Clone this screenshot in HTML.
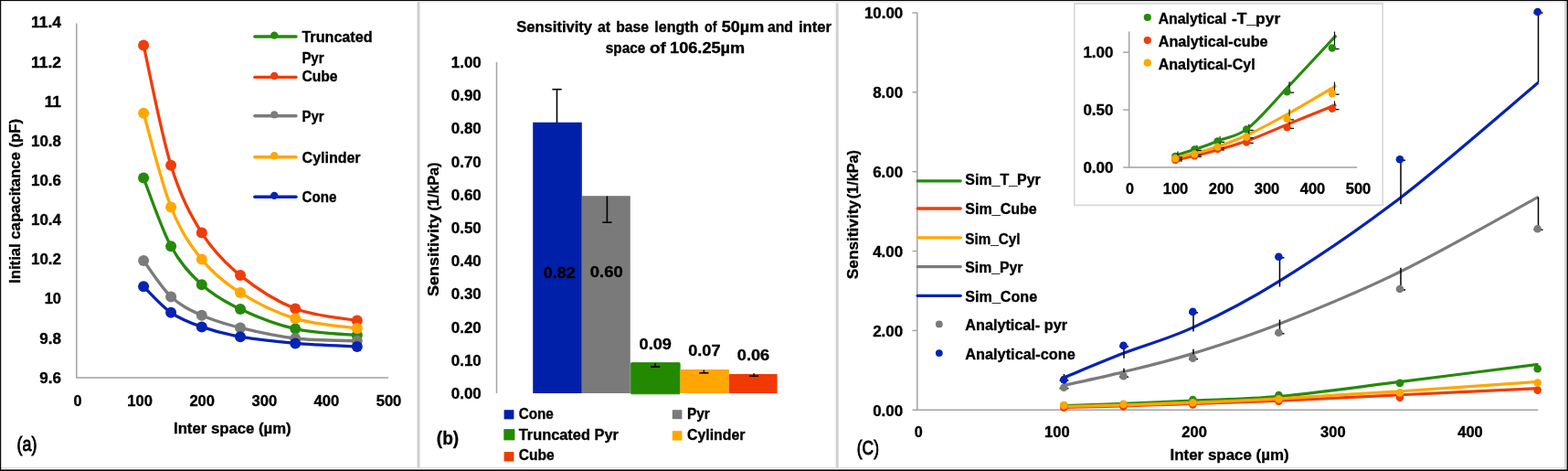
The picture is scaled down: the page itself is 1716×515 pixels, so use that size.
<!DOCTYPE html>
<html><head><meta charset="utf-8"><title>Sensitivity charts</title>
<style>
html,body{margin:0;padding:0;background:#fff;}
body{width:1716px;height:515px;overflow:hidden;}
svg{display:block;}
text{font-family:"Liberation Sans", sans-serif;}
text[font-weight="bold"]{stroke:#000;stroke-width:0.35px;}
text.reg{stroke:#000;stroke-width:0.9px;}
</style></head>
<body>
<svg width="1716" height="515" viewBox="0 0 1716 515">
<rect x="0" y="0" width="1716" height="515" fill="#fff"/>
<rect x="456.5" y="2" width="3" height="510" fill="#cfcfcf"/>
<rect x="914.7" y="2" width="3" height="510" fill="#d2d2d2"/>
<rect x="459.5" y="2" width="1253" height="1.4" fill="#efefef"/>
<rect x="1" y="511" width="1713" height="1.2" fill="#dcdcdc"/>
<rect x="1712" y="1" width="2" height="512" fill="#d8d8d8"/>
<rect x="0" y="0" width="1716" height="1.1" fill="#080808"/>
<rect x="0" y="0" width="1.2" height="515" fill="#080808"/>
<rect x="0" y="513.4" width="1716" height="1.6" fill="#080808"/>
<rect x="1714.6" y="0" width="1.4" height="515" fill="#080808"/>
<path d="M83.8,25.5 V413 H425" fill="none" stroke="#a3a3a3" stroke-width="1.5"/>
<text x="34.00" y="30.40" font-size="17.2" textLength="33.00" lengthAdjust="spacingAndGlyphs" font-weight="bold" fill="#000">11.4</text>
<text x="34.00" y="73.56" font-size="17.2" textLength="33.00" lengthAdjust="spacingAndGlyphs" font-weight="bold" fill="#000">11.2</text>
<text x="48.70" y="116.71" font-size="17.2" textLength="18.30" lengthAdjust="spacingAndGlyphs" font-weight="bold" fill="#000">11</text>
<text x="34.00" y="159.87" font-size="17.2" textLength="33.01" lengthAdjust="spacingAndGlyphs" font-weight="bold" fill="#000">10.8</text>
<text x="34.00" y="203.02" font-size="17.2" textLength="33.01" lengthAdjust="spacingAndGlyphs" font-weight="bold" fill="#000">10.6</text>
<text x="34.00" y="246.18" font-size="17.2" textLength="33.01" lengthAdjust="spacingAndGlyphs" font-weight="bold" fill="#000">10.4</text>
<text x="34.00" y="289.33" font-size="17.2" textLength="33.01" lengthAdjust="spacingAndGlyphs" font-weight="bold" fill="#000">10.2</text>
<text x="48.70" y="332.49" font-size="17.2" textLength="18.31" lengthAdjust="spacingAndGlyphs" font-weight="bold" fill="#000">10</text>
<text x="43.30" y="375.64" font-size="17.2" textLength="23.70" lengthAdjust="spacingAndGlyphs" font-weight="bold" fill="#000">9.8</text>
<text x="43.30" y="418.80" font-size="17.2" textLength="23.70" lengthAdjust="spacingAndGlyphs" font-weight="bold" fill="#000">9.6</text>
<text x="80.50" y="443.90" font-size="17.2" textLength="9.00" lengthAdjust="spacingAndGlyphs" font-weight="bold" fill="#000">0</text>
<text x="139.30" y="443.90" font-size="17.2" textLength="27.61" lengthAdjust="spacingAndGlyphs" font-weight="bold" fill="#000">100</text>
<text x="207.40" y="443.90" font-size="17.2" textLength="27.61" lengthAdjust="spacingAndGlyphs" font-weight="bold" fill="#000">200</text>
<text x="275.50" y="443.90" font-size="17.2" textLength="27.61" lengthAdjust="spacingAndGlyphs" font-weight="bold" fill="#000">300</text>
<text x="343.60" y="443.90" font-size="17.2" textLength="27.61" lengthAdjust="spacingAndGlyphs" font-weight="bold" fill="#000">400</text>
<text x="411.70" y="443.90" font-size="17.2" textLength="27.61" lengthAdjust="spacingAndGlyphs" font-weight="bold" fill="#000">500</text>
<text x="190.00" y="473.80" font-size="16.5" textLength="128.61" lengthAdjust="spacingAndGlyphs" font-weight="bold" fill="#000">Inter space (µm)</text>
<text transform="translate(22.40,309.90) rotate(-90)" x="-0.00" y="0" font-size="16.5" textLength="179.91" lengthAdjust="spacingAndGlyphs" font-weight="bold" fill="#000">Initial capacitance (pF)</text>
<text x="18.60" y="492.80" font-size="22.5" textLength="21.80" lengthAdjust="spacingAndGlyphs" font-weight="normal" class="reg" fill="#000">(a)</text>
<path d="M157.10,194.60 C162.10,207.05 176.48,249.87 187.10,269.30 C197.72,288.73 208.15,299.75 220.80,311.20 C233.45,322.65 245.93,329.93 263.00,338.00 C280.07,346.07 301.90,354.83 323.20,359.60 C344.50,364.37 379.53,365.43 390.80,366.60" fill="none" stroke="#258a0b" stroke-width="3.3" stroke-linejoin="round"/>
<circle cx="157.1" cy="194.6" r="6.0" fill="#258a0b"/>
<circle cx="187.1" cy="269.3" r="6.0" fill="#258a0b"/>
<circle cx="220.8" cy="311.2" r="6.0" fill="#258a0b"/>
<circle cx="263" cy="338.0" r="6.0" fill="#258a0b"/>
<circle cx="323.2" cy="359.6" r="6.0" fill="#258a0b"/>
<circle cx="390.8" cy="366.6" r="6.0" fill="#258a0b"/>
<path d="M157.10,49.40 C162.10,71.30 176.48,146.60 187.10,180.80 C197.72,215.00 208.15,234.55 220.80,254.60 C233.45,274.65 245.93,287.28 263.00,301.10 C280.07,314.92 301.90,329.25 323.20,337.50 C344.50,345.75 379.53,348.42 390.80,350.60" fill="none" stroke="#f03c0a" stroke-width="3.3" stroke-linejoin="round"/>
<circle cx="157.1" cy="49.4" r="6.0" fill="#f03c0a"/>
<circle cx="187.1" cy="180.8" r="6.0" fill="#f03c0a"/>
<circle cx="220.8" cy="254.6" r="6.0" fill="#f03c0a"/>
<circle cx="263" cy="301.1" r="6.0" fill="#f03c0a"/>
<circle cx="323.2" cy="337.5" r="6.0" fill="#f03c0a"/>
<circle cx="390.8" cy="350.6" r="6.0" fill="#f03c0a"/>
<path d="M157.10,285.00 C162.10,291.57 176.48,314.43 187.10,324.40 C197.72,334.37 208.15,339.13 220.80,344.80 C233.45,350.47 245.93,354.20 263.00,358.40 C280.07,362.60 301.90,367.60 323.20,370.00 C344.50,372.40 379.53,372.33 390.80,372.80" fill="none" stroke="#7b7b7b" stroke-width="3.3" stroke-linejoin="round"/>
<circle cx="157.1" cy="285.0" r="6.0" fill="#7b7b7b"/>
<circle cx="187.1" cy="324.4" r="6.0" fill="#7b7b7b"/>
<circle cx="220.8" cy="344.8" r="6.0" fill="#7b7b7b"/>
<circle cx="263" cy="358.4" r="6.0" fill="#7b7b7b"/>
<circle cx="323.2" cy="370.0" r="6.0" fill="#7b7b7b"/>
<circle cx="390.8" cy="372.8" r="6.0" fill="#7b7b7b"/>
<path d="M157.10,123.80 C162.10,140.90 176.48,199.77 187.10,226.40 C197.72,253.03 208.15,267.98 220.80,283.60 C233.45,299.22 245.93,309.32 263.00,320.10 C280.07,330.88 301.90,341.80 323.20,348.30 C344.50,354.80 379.53,357.30 390.80,359.10" fill="none" stroke="#ffa700" stroke-width="3.3" stroke-linejoin="round"/>
<circle cx="157.1" cy="123.8" r="6.0" fill="#ffa700"/>
<circle cx="187.1" cy="226.4" r="6.0" fill="#ffa700"/>
<circle cx="220.8" cy="283.6" r="6.0" fill="#ffa700"/>
<circle cx="263" cy="320.1" r="6.0" fill="#ffa700"/>
<circle cx="323.2" cy="348.3" r="6.0" fill="#ffa700"/>
<circle cx="390.8" cy="359.1" r="6.0" fill="#ffa700"/>
<path d="M157.10,313.30 C162.10,318.05 176.48,334.45 187.10,341.80 C197.72,349.15 208.15,353.00 220.80,357.40 C233.45,361.80 245.93,365.20 263.00,368.20 C280.07,371.20 301.90,373.60 323.20,375.40 C344.50,377.20 379.53,378.40 390.80,379.00" fill="none" stroke="#0623b4" stroke-width="3.3" stroke-linejoin="round"/>
<circle cx="157.1" cy="313.3" r="6.0" fill="#0623b4"/>
<circle cx="187.1" cy="341.8" r="6.0" fill="#0623b4"/>
<circle cx="220.8" cy="357.4" r="6.0" fill="#0623b4"/>
<circle cx="263" cy="368.2" r="6.0" fill="#0623b4"/>
<circle cx="323.2" cy="375.4" r="6.0" fill="#0623b4"/>
<circle cx="390.8" cy="379.0" r="6.0" fill="#0623b4"/>
<line x1="278.8" y1="40.0" x2="324.0" y2="40.0" stroke="#258a0b" stroke-width="3.4" stroke-linecap="round"/>
<circle cx="300.2" cy="38.6" r="4.2" fill="#258a0b"/>
<line x1="278.8" y1="84.4" x2="324.0" y2="84.4" stroke="#f03c0a" stroke-width="3.4" stroke-linecap="round"/>
<circle cx="300.2" cy="83.0" r="4.2" fill="#f03c0a"/>
<line x1="278.8" y1="126.8" x2="324.0" y2="126.8" stroke="#7b7b7b" stroke-width="3.4" stroke-linecap="round"/>
<circle cx="300.2" cy="125.39999999999999" r="4.2" fill="#7b7b7b"/>
<line x1="278.8" y1="171.7" x2="324.0" y2="171.7" stroke="#ffa700" stroke-width="3.4" stroke-linecap="round"/>
<circle cx="300.2" cy="170.29999999999998" r="4.2" fill="#ffa700"/>
<line x1="278.8" y1="215.3" x2="324.0" y2="215.3" stroke="#0623b4" stroke-width="3.4" stroke-linecap="round"/>
<circle cx="300.2" cy="213.9" r="4.2" fill="#0623b4"/>
<text x="330.40" y="46.10" font-size="16.5" textLength="77.20" lengthAdjust="spacingAndGlyphs" font-weight="bold" fill="#000">Truncated</text>
<text x="330.40" y="68.80" font-size="16.5" textLength="24.10" lengthAdjust="spacingAndGlyphs" font-weight="bold" fill="#000">Pyr</text>
<text x="330.40" y="89.10" font-size="16.5" textLength="39.10" lengthAdjust="spacingAndGlyphs" font-weight="bold" fill="#000">Cube</text>
<text x="330.60" y="133.30" font-size="16.5" textLength="24.10" lengthAdjust="spacingAndGlyphs" font-weight="bold" fill="#000">Pyr</text>
<text x="330.60" y="178.00" font-size="16.5" textLength="64.00" lengthAdjust="spacingAndGlyphs" font-weight="bold" fill="#000">Cylinder</text>
<text x="330.60" y="221.30" font-size="16.5" textLength="37.70" lengthAdjust="spacingAndGlyphs" font-weight="bold" fill="#000">Cone</text>
<text x="565.20" y="34.90" font-size="16.5" textLength="82.90" lengthAdjust="spacingAndGlyphs" font-weight="bold" fill="#000">Sensitivity</text>
<text x="653.90" y="34.90" font-size="16.5" textLength="14.10" lengthAdjust="spacingAndGlyphs" font-weight="bold" fill="#000">at</text>
<text x="674.30" y="34.90" font-size="16.5" textLength="35.70" lengthAdjust="spacingAndGlyphs" font-weight="bold" fill="#000">base</text>
<text x="716.30" y="34.90" font-size="16.5" textLength="48.19" lengthAdjust="spacingAndGlyphs" font-weight="bold" fill="#000">length</text>
<text x="771.00" y="34.90" font-size="16.5" textLength="13.37" lengthAdjust="spacingAndGlyphs" font-weight="bold" fill="#000">of</text>
<text x="789.80" y="34.90" font-size="16.5" textLength="46.39" lengthAdjust="spacingAndGlyphs" font-weight="bold" fill="#000">50µm</text>
<text x="840.00" y="34.90" font-size="16.5" textLength="28.00" lengthAdjust="spacingAndGlyphs" font-weight="bold" fill="#000">and</text>
<text x="873.90" y="34.90" font-size="16.5" textLength="36.10" lengthAdjust="spacingAndGlyphs" font-weight="bold" fill="#000">inter</text>
<text x="662.80" y="58.00" font-size="16.5" textLength="43.51" lengthAdjust="spacingAndGlyphs" font-weight="bold" fill="#000">space</text>
<text x="711.00" y="58.00" font-size="16.5" textLength="17.86" lengthAdjust="spacingAndGlyphs" font-weight="bold" fill="#000">of</text>
<text x="733.10" y="58.00" font-size="16.5" textLength="82.10" lengthAdjust="spacingAndGlyphs" font-weight="bold" fill="#000">106.25µm</text>
<line x1="543.5" y1="67.9" x2="543.5" y2="430.1" stroke="#a3a3a3" stroke-width="1.5"/>
<text x="493.80" y="73.90" font-size="17.2" textLength="33.01" lengthAdjust="spacingAndGlyphs" font-weight="bold" fill="#000">1.00</text>
<text x="493.80" y="110.10" font-size="17.2" textLength="33.01" lengthAdjust="spacingAndGlyphs" font-weight="bold" fill="#000">0.90</text>
<text x="493.80" y="146.30" font-size="17.2" textLength="33.01" lengthAdjust="spacingAndGlyphs" font-weight="bold" fill="#000">0.80</text>
<text x="493.80" y="182.50" font-size="17.2" textLength="33.01" lengthAdjust="spacingAndGlyphs" font-weight="bold" fill="#000">0.70</text>
<text x="493.80" y="218.70" font-size="17.2" textLength="33.01" lengthAdjust="spacingAndGlyphs" font-weight="bold" fill="#000">0.60</text>
<text x="493.80" y="254.90" font-size="17.2" textLength="33.01" lengthAdjust="spacingAndGlyphs" font-weight="bold" fill="#000">0.50</text>
<text x="493.80" y="291.10" font-size="17.2" textLength="33.01" lengthAdjust="spacingAndGlyphs" font-weight="bold" fill="#000">0.40</text>
<text x="493.80" y="327.30" font-size="17.2" textLength="33.01" lengthAdjust="spacingAndGlyphs" font-weight="bold" fill="#000">0.30</text>
<text x="493.80" y="363.50" font-size="17.2" textLength="33.01" lengthAdjust="spacingAndGlyphs" font-weight="bold" fill="#000">0.20</text>
<text x="493.80" y="399.70" font-size="17.2" textLength="33.01" lengthAdjust="spacingAndGlyphs" font-weight="bold" fill="#000">0.10</text>
<text x="493.80" y="435.90" font-size="17.2" textLength="33.01" lengthAdjust="spacingAndGlyphs" font-weight="bold" fill="#000">0.00</text>
<text transform="translate(480.20,324.00) rotate(-90)" x="-0.00" y="0" font-size="16.5" textLength="90.10" lengthAdjust="spacingAndGlyphs" font-weight="bold" fill="#000">Sensitivity</text>
<text transform="translate(480.20,230.60) rotate(-90)" x="-0.00" y="0" font-size="16.5" textLength="53.01" lengthAdjust="spacingAndGlyphs" font-weight="bold" fill="#000">(1/kPa)</text>
<rect x="583.2" y="133.8" width="53.6" height="296.2" fill="#0020a9"/>
<rect x="636.8" y="214.2" width="53.0" height="215.8" fill="#7a7a7a"/>
<rect x="690.4" y="396.6" width="53.8" height="34.2" rx="1" fill="#228900" stroke="#228900" stroke-width="0.8"/>
<rect x="744.4" y="404.0" width="53.4" height="26.0" fill="#ffa600"/>
<rect x="797.8" y="409.0" width="52.8" height="21.0" fill="#f03a02"/>
<line x1="609.5" y1="134" x2="609.5" y2="97.7" stroke="#000" stroke-width="1.6"/>
<line x1="604.4" y1="97.7" x2="614.6" y2="97.7" stroke="#000" stroke-width="1.6"/>
<line x1="664.4" y1="214.5" x2="664.4" y2="243.2" stroke="#000" stroke-width="1.6"/>
<line x1="659.3" y1="243.2" x2="669.5" y2="243.2" stroke="#000" stroke-width="1.6"/>
<line x1="717.1" y1="397.2" x2="717.1" y2="401.0" stroke="#000" stroke-width="1.6"/>
<line x1="712.0" y1="401.0" x2="722.2" y2="401.0" stroke="#000" stroke-width="1.6"/>
<line x1="770.3" y1="404.6" x2="770.3" y2="407.8" stroke="#000" stroke-width="1.6"/>
<line x1="765.1999999999999" y1="407.8" x2="775.4" y2="407.8" stroke="#000" stroke-width="1.6"/>
<line x1="825.0" y1="408.3" x2="825.0" y2="411.2" stroke="#000" stroke-width="1.6"/>
<line x1="819.9" y1="411.2" x2="830.1" y2="411.2" stroke="#000" stroke-width="1.6"/>
<text x="594.80" y="304.00" font-size="17.2" textLength="34.81" lengthAdjust="spacingAndGlyphs" font-weight="bold" fill="#000">0.82</text>
<text x="645.80" y="303.30" font-size="17.2" textLength="36.01" lengthAdjust="spacingAndGlyphs" font-weight="bold" fill="#000">0.60</text>
<text x="699.60" y="382.40" font-size="17.2" textLength="35.31" lengthAdjust="spacingAndGlyphs" font-weight="bold" fill="#000">0.09</text>
<text x="753.20" y="389.40" font-size="17.2" textLength="35.31" lengthAdjust="spacingAndGlyphs" font-weight="bold" fill="#000">0.07</text>
<text x="806.80" y="393.80" font-size="17.2" textLength="35.31" lengthAdjust="spacingAndGlyphs" font-weight="bold" fill="#000">0.06</text>
<rect x="551.6" y="448.2" width="10.8" height="10.2" fill="#0020a9"/>
<rect x="551.8" y="469.6" width="11.2" height="11.4" fill="#228900" stroke="#228900" stroke-width="0.8"/>
<rect x="551.6" y="494.1" width="10.8" height="10.4" fill="#f03a02"/>
<rect x="735.8" y="448.2" width="10.6" height="10.0" fill="#7a7a7a"/>
<rect x="735.8" y="471.2" width="10.6" height="10.4" fill="#ffa600"/>
<text x="567.70" y="458.30" font-size="16.5" textLength="38.10" lengthAdjust="spacingAndGlyphs" font-weight="bold" fill="#000">Cone</text>
<text x="567.70" y="481.40" font-size="16.5" textLength="109.20" lengthAdjust="spacingAndGlyphs" font-weight="bold" fill="#000">Truncated Pyr</text>
<text x="567.70" y="503.40" font-size="16.5" textLength="38.90" lengthAdjust="spacingAndGlyphs" font-weight="bold" fill="#000">Cube</text>
<text x="752.00" y="458.30" font-size="16.5" textLength="24.80" lengthAdjust="spacingAndGlyphs" font-weight="bold" fill="#000">Pyr</text>
<text x="752.00" y="481.40" font-size="16.5" textLength="63.40" lengthAdjust="spacingAndGlyphs" font-weight="bold" fill="#000">Cylinder</text>
<text x="477.80" y="486.00" font-size="21" textLength="24.40" lengthAdjust="spacingAndGlyphs" font-weight="bold" fill="#000">(b)</text>
<path d="M1003.8,14 V448.3 H1683.3" fill="none" stroke="#a3a3a3" stroke-width="1.5"/>
<line x1="998.5" y1="14.00" x2="1003.8" y2="14.00" stroke="#a3a3a3" stroke-width="1.5"/>
<text x="945.90" y="20.30" font-size="17.2" textLength="42.31" lengthAdjust="spacingAndGlyphs" font-weight="bold" fill="#000">10.00</text>
<line x1="998.5" y1="100.86" x2="1003.8" y2="100.86" stroke="#a3a3a3" stroke-width="1.5"/>
<text x="955.20" y="107.16" font-size="17.2" textLength="33.01" lengthAdjust="spacingAndGlyphs" font-weight="bold" fill="#000">8.00</text>
<line x1="998.5" y1="187.72" x2="1003.8" y2="187.72" stroke="#a3a3a3" stroke-width="1.5"/>
<text x="955.20" y="194.02" font-size="17.2" textLength="33.01" lengthAdjust="spacingAndGlyphs" font-weight="bold" fill="#000">6.00</text>
<line x1="998.5" y1="274.58" x2="1003.8" y2="274.58" stroke="#a3a3a3" stroke-width="1.5"/>
<text x="955.20" y="280.88" font-size="17.2" textLength="33.01" lengthAdjust="spacingAndGlyphs" font-weight="bold" fill="#000">4.00</text>
<line x1="998.5" y1="361.44" x2="1003.8" y2="361.44" stroke="#a3a3a3" stroke-width="1.5"/>
<text x="955.20" y="367.74" font-size="17.2" textLength="33.01" lengthAdjust="spacingAndGlyphs" font-weight="bold" fill="#000">2.00</text>
<line x1="998.5" y1="448.30" x2="1003.8" y2="448.30" stroke="#a3a3a3" stroke-width="1.5"/>
<text x="955.20" y="454.60" font-size="17.2" textLength="33.01" lengthAdjust="spacingAndGlyphs" font-weight="bold" fill="#000">0.00</text>
<text x="1000.80" y="477.60" font-size="17.2" textLength="9.00" lengthAdjust="spacingAndGlyphs" font-weight="bold" fill="#000">0</text>
<text x="1143.10" y="477.60" font-size="17.2" textLength="27.61" lengthAdjust="spacingAndGlyphs" font-weight="bold" fill="#000">100</text>
<text x="1293.30" y="477.60" font-size="17.2" textLength="27.61" lengthAdjust="spacingAndGlyphs" font-weight="bold" fill="#000">200</text>
<text x="1445.00" y="477.60" font-size="17.2" textLength="27.61" lengthAdjust="spacingAndGlyphs" font-weight="bold" fill="#000">300</text>
<text x="1595.20" y="477.60" font-size="17.2" textLength="27.61" lengthAdjust="spacingAndGlyphs" font-weight="bold" fill="#000">400</text>
<text x="1280.50" y="503.40" font-size="16.5" textLength="130.21" lengthAdjust="spacingAndGlyphs" font-weight="bold" fill="#000">Inter space (µm)</text>
<text transform="translate(939.20,305.20) rotate(-90)" x="-0.00" y="0" font-size="16.5" textLength="86.30" lengthAdjust="spacingAndGlyphs" font-weight="bold" fill="#000">Sensitivity</text>
<text transform="translate(939.20,217.30) rotate(-90)" x="-0.00" y="0" font-size="16.5" textLength="53.31" lengthAdjust="spacingAndGlyphs" font-weight="bold" fill="#000">(1/kPa)</text>
<text x="937.80" y="496.60" font-size="22.5" textLength="24.20" lengthAdjust="spacingAndGlyphs" font-weight="normal" class="reg" fill="#000">(C)</text>
<path d="M1164.50,443.61 C1175.42,443.23 1206.42,442.24 1230.00,441.31 C1253.58,440.37 1277.58,439.32 1306.00,438.01 C1334.42,436.69 1362.67,436.85 1400.50,433.40 C1438.33,429.96 1485.83,423.16 1533.00,417.33 C1580.17,411.51 1658.42,401.59 1683.50,398.44" fill="none" stroke="#258a0b" stroke-width="3.2" stroke-linejoin="round"/>
<path d="M1164.50,445.35 C1175.42,445.09 1206.42,444.49 1230.00,443.83 C1253.58,443.17 1277.58,442.34 1306.00,441.39 C1334.42,440.45 1362.67,439.74 1400.50,438.14 C1438.33,436.53 1485.83,434.00 1533.00,431.75 C1580.17,429.50 1658.42,425.82 1683.50,424.63" fill="none" stroke="#f03c0a" stroke-width="3.2" stroke-linejoin="round"/>
<path d="M1164.50,444.52 C1175.42,444.23 1206.42,443.51 1230.00,442.78 C1253.58,442.06 1277.58,441.33 1306.00,440.18 C1334.42,439.03 1362.67,437.95 1400.50,435.88 C1438.33,433.81 1485.83,430.83 1533.00,427.76 C1580.17,424.69 1658.42,419.18 1683.50,417.46" fill="none" stroke="#ffa700" stroke-width="3.2" stroke-linejoin="round"/>
<path d="M1164.50,421.30 C1175.42,418.85 1206.42,412.42 1230.00,406.60 C1253.58,400.78 1277.58,395.17 1306.00,386.40 C1334.42,377.63 1362.67,368.93 1400.50,354.00 C1438.33,339.07 1485.83,319.90 1533.00,296.80 C1580.17,273.70 1658.42,228.97 1683.50,215.40" fill="none" stroke="#7b7b7b" stroke-width="3.2"/>
<path d="M1164.50,412.80 C1175.42,408.35 1206.42,395.25 1230.00,386.10 C1253.58,376.95 1277.58,371.05 1306.00,357.90 C1334.42,344.75 1362.67,330.85 1400.50,307.20 C1438.33,283.55 1485.83,252.15 1533.00,216.00 C1580.17,179.85 1658.42,111.25 1683.50,90.30" fill="none" stroke="#0623b4" stroke-width="3.2"/>
<circle cx="1164.3" cy="443.20" r="4.3" fill="#258a0b"/>
<circle cx="1229.5" cy="442.00" r="4.3" fill="#258a0b"/>
<circle cx="1305.4" cy="437.00" r="4.3" fill="#258a0b"/>
<circle cx="1399.4" cy="432.10" r="4.3" fill="#258a0b"/>
<circle cx="1532.0" cy="418.90" r="4.3" fill="#258a0b"/>
<circle cx="1682.7" cy="403.30" r="4.3" fill="#258a0b"/>
<circle cx="1164.3" cy="445.60" r="4.3" fill="#f03c0a"/>
<circle cx="1229.5" cy="444.40" r="4.3" fill="#f03c0a"/>
<circle cx="1305.4" cy="442.40" r="4.3" fill="#f03c0a"/>
<circle cx="1399.4" cy="438.70" r="4.3" fill="#f03c0a"/>
<circle cx="1532.0" cy="434.60" r="4.3" fill="#f03c0a"/>
<circle cx="1682.7" cy="426.60" r="4.3" fill="#f03c0a"/>
<circle cx="1164.3" cy="443.30" r="4.3" fill="#ffa700"/>
<circle cx="1229.5" cy="442.00" r="4.3" fill="#ffa700"/>
<circle cx="1305.4" cy="440.20" r="4.3" fill="#ffa700"/>
<circle cx="1399.4" cy="436.40" r="4.3" fill="#ffa700"/>
<circle cx="1532.0" cy="429.40" r="4.3" fill="#ffa700"/>
<circle cx="1682.7" cy="418.60" r="4.3" fill="#ffa700"/>
<line x1="1164.5" y1="423.7" x2="1164.5" y2="418.0" stroke="#000" stroke-width="1.5"/>
<line x1="1159.5" y1="424.7" x2="1169.5" y2="424.7" stroke="#000" stroke-width="1.5"/>
<circle cx="1164.3" cy="423.7" r="4.3" fill="#7b7b7b"/>
<line x1="1164.5" y1="415.1" x2="1164.5" y2="409.0" stroke="#000" stroke-width="1.5"/>
<line x1="1159.5" y1="416.1" x2="1169.5" y2="416.1" stroke="#000" stroke-width="1.5"/>
<circle cx="1164.3" cy="415.1" r="4.3" fill="#0623b4"/>
<line x1="1230.0" y1="411.2" x2="1230.0" y2="402.7" stroke="#000" stroke-width="1.5"/>
<line x1="1225.0" y1="412.2" x2="1235.0" y2="412.2" stroke="#000" stroke-width="1.5"/>
<circle cx="1229.5" cy="411.2" r="4.3" fill="#7b7b7b"/>
<line x1="1230.0" y1="377.9" x2="1230.0" y2="391.8" stroke="#000" stroke-width="1.5"/>
<line x1="1225.0" y1="378.9" x2="1235.0" y2="378.9" stroke="#000" stroke-width="1.5"/>
<circle cx="1229.5" cy="377.9" r="4.3" fill="#0623b4"/>
<line x1="1306.0" y1="391.6" x2="1306.0" y2="381.7" stroke="#000" stroke-width="1.5"/>
<line x1="1301.0" y1="392.6" x2="1311.0" y2="392.6" stroke="#000" stroke-width="1.5"/>
<circle cx="1305.4" cy="391.6" r="4.3" fill="#7b7b7b"/>
<line x1="1306.0" y1="340.9" x2="1306.0" y2="362.6" stroke="#000" stroke-width="1.5"/>
<line x1="1301.0" y1="341.9" x2="1311.0" y2="341.9" stroke="#000" stroke-width="1.5"/>
<circle cx="1305.4" cy="340.9" r="4.3" fill="#0623b4"/>
<line x1="1400.5" y1="363.8" x2="1400.5" y2="349.5" stroke="#000" stroke-width="1.5"/>
<line x1="1395.5" y1="364.8" x2="1405.5" y2="364.8" stroke="#000" stroke-width="1.5"/>
<circle cx="1399.4" cy="363.8" r="4.3" fill="#7b7b7b"/>
<line x1="1400.5" y1="280.8" x2="1400.5" y2="313.6" stroke="#000" stroke-width="1.5"/>
<line x1="1395.5" y1="281.8" x2="1405.5" y2="281.8" stroke="#000" stroke-width="1.5"/>
<circle cx="1399.4" cy="280.8" r="4.3" fill="#0623b4"/>
<line x1="1533.0" y1="316.0" x2="1533.0" y2="292.7" stroke="#000" stroke-width="1.5"/>
<line x1="1528.0" y1="317.0" x2="1538.0" y2="317.0" stroke="#000" stroke-width="1.5"/>
<circle cx="1532.0" cy="316.0" r="4.3" fill="#7b7b7b"/>
<line x1="1533.0" y1="174.3" x2="1533.0" y2="223.2" stroke="#000" stroke-width="1.5"/>
<line x1="1528.0" y1="175.3" x2="1538.0" y2="175.3" stroke="#000" stroke-width="1.5"/>
<circle cx="1532.0" cy="174.3" r="4.3" fill="#0623b4"/>
<line x1="1683.5" y1="250.3" x2="1683.5" y2="215.4" stroke="#000" stroke-width="1.5"/>
<line x1="1678.5" y1="251.3" x2="1688.5" y2="251.3" stroke="#000" stroke-width="1.5"/>
<circle cx="1682.7" cy="250.3" r="4.3" fill="#7b7b7b"/>
<line x1="1683.5" y1="13.0" x2="1683.5" y2="90.3" stroke="#000" stroke-width="1.5"/>
<line x1="1678.5" y1="14.0" x2="1688.5" y2="14.0" stroke="#000" stroke-width="1.5"/>
<circle cx="1682.7" cy="13.0" r="4.3" fill="#0623b4"/>
<line x1="1004.2" y1="197.8" x2="1051.2" y2="197.8" stroke="#258a0b" stroke-width="3.3" stroke-linecap="round"/>
<text x="1056.30" y="202.30" font-size="16.5" textLength="82.51" lengthAdjust="spacingAndGlyphs" font-weight="bold" fill="#000">Sim_T_Pyr</text>
<line x1="1004.2" y1="228.0" x2="1051.2" y2="228.0" stroke="#f03c0a" stroke-width="3.3" stroke-linecap="round"/>
<text x="1056.30" y="234.40" font-size="16.5" textLength="78.50" lengthAdjust="spacingAndGlyphs" font-weight="bold" fill="#000">Sim_Cube</text>
<line x1="1004.2" y1="259.9" x2="1051.2" y2="259.9" stroke="#ffa700" stroke-width="3.3" stroke-linecap="round"/>
<text x="1056.30" y="266.50" font-size="16.5" textLength="60.20" lengthAdjust="spacingAndGlyphs" font-weight="bold" fill="#000">Sim_Cyl</text>
<line x1="1004.2" y1="291.7" x2="1051.2" y2="291.7" stroke="#7b7b7b" stroke-width="3.3" stroke-linecap="round"/>
<text x="1056.30" y="297.90" font-size="16.5" textLength="63.21" lengthAdjust="spacingAndGlyphs" font-weight="bold" fill="#000">Sim_Pyr</text>
<line x1="1004.2" y1="323.3" x2="1051.2" y2="323.3" stroke="#0623b4" stroke-width="3.3" stroke-linecap="round"/>
<text x="1056.30" y="329.60" font-size="16.5" textLength="78.90" lengthAdjust="spacingAndGlyphs" font-weight="bold" fill="#000">Sim_Cone</text>
<circle cx="1027.8" cy="354.4" r="3.9" fill="#7b7b7b"/>
<circle cx="1027.8" cy="386.1" r="3.9" fill="#0623b4"/>
<text x="1056.30" y="361.00" font-size="16.5" textLength="111.70" lengthAdjust="spacingAndGlyphs" font-weight="bold" fill="#000">Analytical- pyr</text>
<text x="1056.30" y="392.50" font-size="16.5" textLength="120.50" lengthAdjust="spacingAndGlyphs" font-weight="bold" fill="#000">Analytical-cone</text>
<rect x="1175.8" y="4" width="337.4" height="220.4" fill="#fff" stroke="#d6d6d6" stroke-width="1.6"/>
<path d="M1235.7,34.4 V183 H1485.2" fill="none" stroke="#a3a3a3" stroke-width="1.5"/>
<line x1="1229.2" y1="57.20" x2="1235.7" y2="57.20" stroke="#a3a3a3" stroke-width="1.5"/>
<text x="1185.40" y="63.00" font-size="17.2" textLength="33.01" lengthAdjust="spacingAndGlyphs" font-weight="bold" fill="#000">1.00</text>
<line x1="1229.2" y1="120.10" x2="1235.7" y2="120.10" stroke="#a3a3a3" stroke-width="1.5"/>
<text x="1185.40" y="125.90" font-size="17.2" textLength="33.01" lengthAdjust="spacingAndGlyphs" font-weight="bold" fill="#000">0.50</text>
<line x1="1229.2" y1="183.00" x2="1235.7" y2="183.00" stroke="#a3a3a3" stroke-width="1.5"/>
<text x="1185.40" y="188.80" font-size="17.2" textLength="33.01" lengthAdjust="spacingAndGlyphs" font-weight="bold" fill="#000">0.00</text>
<text x="1232.00" y="212.30" font-size="17.2" textLength="9.00" lengthAdjust="spacingAndGlyphs" font-weight="bold" fill="#000">0</text>
<text x="1272.70" y="212.30" font-size="17.2" textLength="27.61" lengthAdjust="spacingAndGlyphs" font-weight="bold" fill="#000">100</text>
<text x="1322.70" y="212.30" font-size="17.2" textLength="27.61" lengthAdjust="spacingAndGlyphs" font-weight="bold" fill="#000">200</text>
<text x="1372.70" y="212.30" font-size="17.2" textLength="27.61" lengthAdjust="spacingAndGlyphs" font-weight="bold" fill="#000">300</text>
<text x="1422.70" y="212.30" font-size="17.2" textLength="27.61" lengthAdjust="spacingAndGlyphs" font-weight="bold" fill="#000">400</text>
<text x="1472.70" y="212.30" font-size="17.2" textLength="27.61" lengthAdjust="spacingAndGlyphs" font-weight="bold" fill="#000">500</text>
<path d="M1288.00,169.41 C1291.60,168.30 1301.72,165.45 1309.60,162.75 C1317.48,160.04 1325.85,157.00 1335.30,153.19 C1344.75,149.37 1353.65,149.83 1366.30,139.85 C1378.95,129.87 1395.20,110.18 1411.20,93.30 C1427.20,76.43 1453.78,47.70 1462.30,38.58" fill="none" stroke="#258a0b" stroke-width="3.1" stroke-linejoin="round"/>
<path d="M1288.00,174.45 C1291.60,173.71 1301.72,171.95 1309.60,170.04 C1317.48,168.13 1325.85,165.74 1335.30,163.00 C1344.75,160.25 1353.65,158.22 1366.30,153.56 C1378.95,148.91 1395.20,141.59 1411.20,135.07 C1427.20,128.55 1453.78,117.88 1462.30,114.44" fill="none" stroke="#f03c0a" stroke-width="3.1" stroke-linejoin="round"/>
<path d="M1288.00,172.06 C1291.60,171.22 1301.72,169.12 1309.60,167.02 C1317.48,164.93 1325.85,162.81 1335.30,159.48 C1344.75,156.14 1353.65,153.02 1366.30,147.02 C1378.95,141.02 1395.20,132.39 1411.20,123.50 C1427.20,114.61 1453.78,98.65 1462.30,93.68" fill="none" stroke="#ffa700" stroke-width="3.1" stroke-linejoin="round"/>
<line x1="1288.90" y1="171.05" x2="1288.90" y2="165.41" stroke="#111" stroke-width="1.2"/>
<line x1="1283.90" y1="172.05" x2="1293.90" y2="172.05" stroke="#111" stroke-width="1.3"/>
<circle cx="1286.3" cy="171.05" r="4.2" fill="#258a0b"/>
<line x1="1309.90" y1="163.38" x2="1309.90" y2="158.75" stroke="#111" stroke-width="1.2"/>
<line x1="1304.90" y1="164.38" x2="1314.90" y2="164.38" stroke="#111" stroke-width="1.3"/>
<circle cx="1307.3" cy="163.38" r="4.2" fill="#258a0b"/>
<line x1="1335.10" y1="154.44" x2="1335.10" y2="149.19" stroke="#111" stroke-width="1.2"/>
<line x1="1330.10" y1="155.44" x2="1340.10" y2="155.44" stroke="#111" stroke-width="1.3"/>
<circle cx="1332.5" cy="154.44" r="4.2" fill="#258a0b"/>
<line x1="1366.80" y1="141.49" x2="1366.80" y2="135.85" stroke="#111" stroke-width="1.2"/>
<line x1="1361.80" y1="142.49" x2="1371.80" y2="142.49" stroke="#111" stroke-width="1.3"/>
<circle cx="1364.2" cy="141.49" r="4.2" fill="#258a0b"/>
<line x1="1411.10" y1="100.22" x2="1411.10" y2="89.30" stroke="#111" stroke-width="1.2"/>
<line x1="1406.10" y1="101.22" x2="1416.10" y2="101.22" stroke="#111" stroke-width="1.3"/>
<circle cx="1408.5" cy="100.22" r="4.2" fill="#258a0b"/>
<line x1="1460.50" y1="52.55" x2="1460.50" y2="34.58" stroke="#111" stroke-width="1.2"/>
<line x1="1455.50" y1="53.55" x2="1465.50" y2="53.55" stroke="#111" stroke-width="1.3"/>
<circle cx="1457.9" cy="52.55" r="4.2" fill="#258a0b"/>
<line x1="1288.90" y1="174.95" x2="1288.90" y2="170.45" stroke="#111" stroke-width="1.2"/>
<line x1="1283.90" y1="175.95" x2="1293.90" y2="175.95" stroke="#111" stroke-width="1.3"/>
<circle cx="1286.3" cy="174.95" r="4.2" fill="#f03c0a"/>
<line x1="1309.90" y1="170.42" x2="1309.90" y2="166.04" stroke="#111" stroke-width="1.2"/>
<line x1="1304.90" y1="171.42" x2="1314.90" y2="171.42" stroke="#111" stroke-width="1.3"/>
<circle cx="1307.3" cy="170.42" r="4.2" fill="#f03c0a"/>
<line x1="1335.10" y1="163.00" x2="1335.10" y2="159.00" stroke="#111" stroke-width="1.2"/>
<line x1="1330.10" y1="164.00" x2="1340.10" y2="164.00" stroke="#111" stroke-width="1.3"/>
<circle cx="1332.5" cy="163.00" r="4.2" fill="#f03c0a"/>
<line x1="1366.80" y1="155.45" x2="1366.80" y2="149.56" stroke="#111" stroke-width="1.2"/>
<line x1="1361.80" y1="156.45" x2="1371.80" y2="156.45" stroke="#111" stroke-width="1.3"/>
<circle cx="1364.2" cy="155.45" r="4.2" fill="#f03c0a"/>
<line x1="1411.10" y1="139.35" x2="1411.10" y2="131.07" stroke="#111" stroke-width="1.2"/>
<line x1="1406.10" y1="140.35" x2="1416.10" y2="140.35" stroke="#111" stroke-width="1.3"/>
<circle cx="1408.5" cy="139.35" r="4.2" fill="#f03c0a"/>
<line x1="1460.50" y1="118.72" x2="1460.50" y2="110.44" stroke="#111" stroke-width="1.2"/>
<line x1="1455.50" y1="119.72" x2="1465.50" y2="119.72" stroke="#111" stroke-width="1.3"/>
<circle cx="1457.9" cy="118.72" r="4.2" fill="#f03c0a"/>
<line x1="1288.90" y1="173.19" x2="1288.90" y2="168.06" stroke="#111" stroke-width="1.2"/>
<line x1="1283.90" y1="174.19" x2="1293.90" y2="174.19" stroke="#111" stroke-width="1.3"/>
<circle cx="1286.3" cy="173.19" r="4.2" fill="#ffa700"/>
<line x1="1309.90" y1="168.41" x2="1309.90" y2="163.02" stroke="#111" stroke-width="1.2"/>
<line x1="1304.90" y1="169.41" x2="1314.90" y2="169.41" stroke="#111" stroke-width="1.3"/>
<circle cx="1307.3" cy="168.41" r="4.2" fill="#ffa700"/>
<line x1="1335.10" y1="160.61" x2="1335.10" y2="155.48" stroke="#111" stroke-width="1.2"/>
<line x1="1330.10" y1="161.61" x2="1340.10" y2="161.61" stroke="#111" stroke-width="1.3"/>
<circle cx="1332.5" cy="160.61" r="4.2" fill="#ffa700"/>
<line x1="1366.80" y1="149.79" x2="1366.80" y2="143.02" stroke="#111" stroke-width="1.2"/>
<line x1="1361.80" y1="150.79" x2="1371.80" y2="150.79" stroke="#111" stroke-width="1.3"/>
<circle cx="1364.2" cy="149.79" r="4.2" fill="#ffa700"/>
<line x1="1411.10" y1="129.91" x2="1411.10" y2="119.50" stroke="#111" stroke-width="1.2"/>
<line x1="1406.10" y1="130.91" x2="1416.10" y2="130.91" stroke="#111" stroke-width="1.3"/>
<circle cx="1408.5" cy="129.91" r="4.2" fill="#ffa700"/>
<line x1="1460.50" y1="102.24" x2="1460.50" y2="89.68" stroke="#111" stroke-width="1.2"/>
<line x1="1455.50" y1="103.24" x2="1465.50" y2="103.24" stroke="#111" stroke-width="1.3"/>
<circle cx="1457.9" cy="102.24" r="4.2" fill="#ffa700"/>
<circle cx="1255.8" cy="19.0" r="4.1" fill="#258a0b"/>
<circle cx="1255.8" cy="44.1" r="4.1" fill="#f03c0a"/>
<circle cx="1255.8" cy="68.7" r="4.1" fill="#ffa700"/>
<text x="1267.70" y="26.00" font-size="16.5" textLength="74.80" lengthAdjust="spacingAndGlyphs" font-weight="bold" fill="#000">Analytical</text>
<text x="1348.00" y="26.00" font-size="16.5" textLength="53.20" lengthAdjust="spacingAndGlyphs" font-weight="bold" fill="#000">-T_pyr</text>
<text x="1267.70" y="50.80" font-size="16.5" textLength="119.90" lengthAdjust="spacingAndGlyphs" font-weight="bold" fill="#000">Analytical-cube</text>
<text x="1267.70" y="75.70" font-size="16.5" textLength="105.91" lengthAdjust="spacingAndGlyphs" font-weight="bold" fill="#000">Analytical-Cyl</text>
</svg>
</body></html>
